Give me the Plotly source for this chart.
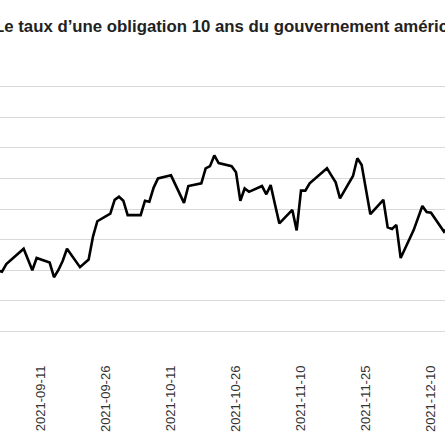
import plotly.graph_objects as go

# data: US 10y yield, business days
dates = [
    "2021-08-31", "2021-09-01", "2021-09-02", "2021-09-03", "2021-09-07", "2021-09-08",
    "2021-09-09", "2021-09-10", "2021-09-13", "2021-09-14", "2021-09-15", "2021-09-16",
    "2021-09-17", "2021-09-20", "2021-09-21", "2021-09-22", "2021-09-23", "2021-09-24",
    "2021-09-27", "2021-09-28", "2021-09-29", "2021-09-30", "2021-10-01", "2021-10-04",
    "2021-10-05", "2021-10-06", "2021-10-07", "2021-10-08", "2021-10-11", "2021-10-12",
    "2021-10-13", "2021-10-14", "2021-10-15", "2021-10-18", "2021-10-19", "2021-10-20",
    "2021-10-21", "2021-10-22", "2021-10-25", "2021-10-26", "2021-10-27", "2021-10-28",
    "2021-10-29", "2021-11-01", "2021-11-02", "2021-11-03", "2021-11-04", "2021-11-05",
    "2021-11-08", "2021-11-09", "2021-11-10", "2021-11-11", "2021-11-12", "2021-11-15",
    "2021-11-16", "2021-11-17", "2021-11-18", "2021-11-19", "2021-11-22", "2021-11-23",
    "2021-11-24", "2021-11-26", "2021-11-29", "2021-11-30", "2021-12-01", "2021-12-02",
    "2021-12-03", "2021-12-06", "2021-12-07", "2021-12-08", "2021-12-09", "2021-12-10",
    "2021-12-13", "2021-12-14",
]
rates = [
    1.31, 1.30, 1.295, 1.32, 1.37, 1.335,
    1.30, 1.34, 1.325, 1.277, 1.30, 1.33,
    1.37, 1.31, 1.322, 1.335, 1.41, 1.46,
    1.485, 1.53, 1.54, 1.527, 1.48, 1.48,
    1.527, 1.524, 1.57, 1.60, 1.61, 1.58,
    1.55, 1.52, 1.575, 1.584, 1.633, 1.64,
    1.675, 1.65, 1.64, 1.62, 1.527, 1.567,
    1.556, 1.575, 1.548, 1.578, 1.515, 1.453,
    1.497, 1.43, 1.56, 1.56, 1.584, 1.621,
    1.633, 1.61, 1.587, 1.535, 1.608, 1.666,
    1.644, 1.483, 1.53, 1.44, 1.435, 1.448,
    1.34, 1.431, 1.47, 1.51, 1.49, 1.488,
    1.426, 1.44,
]

title = "Le taux d’une obligation 10 ans du gouvernement américain"

fig = go.Figure(go.Scatter(
    x=dates, y=rates, mode="lines",
    line=dict(color="black", width=2.6),
))

fig.update_layout(
    width=445, height=445,
    margin=dict(l=0, r=0, t=56, b=83),
    paper_bgcolor="white", plot_bgcolor="white",
    font=dict(family="Liberation Sans, Arial, sans-serif", color="#333"),
    showlegend=False,
    title=dict(text="<b>" + title + "</b>", x=0.524, xanchor="center",
               y=1 - 26 / 445, yanchor="middle",
               font=dict(size=16.8, color="#222")),
    xaxis=dict(
        range=["2021-09-01 13:00", "2021-12-13 05:30"],
        tick0="2021-09-11", dtick=15 * 86400000, tickformat="%Y-%m-%d",
        tickangle=-90, showgrid=False, zeroline=False, showline=False,
        ticks="", ticklen=0, automargin=False, ticklabeloverflow="allow",
        tickfont=dict(size=13, color="#333"),
    ),
    yaxis=dict(
        range=[1.0, 2.0], dtick=0.1, showticklabels=False,
        showgrid=True, gridcolor="#d9d9d9", gridwidth=1.2,
        zeroline=False, showline=False, automargin=False,
    ),
)

# page body has a default 8px margin; drop it so the figure sits at 0,0
fig.write_html("out.html", config={"displayModeBar": False},
               post_script="document.body.style.margin='0';")
